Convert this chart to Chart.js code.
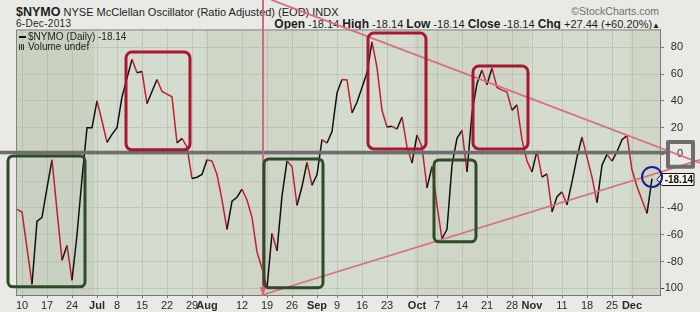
<!DOCTYPE html>
<html><head><meta charset="utf-8">
<script src="https://cdn.jsdelivr.net/npm/chart.js@4/dist/chart.umd.min.js"></script>
<style>
html,body{margin:0;padding:0;background:#e9e9e5;}
#wrap{position:relative;width:700px;height:312px;overflow:hidden;font-family:"Liberation Sans",Arial,sans-serif;}
#c{position:absolute;left:0;top:0;z-index:2;}
.t{position:absolute;white-space:nowrap;color:#1e1e1e;line-height:12px;z-index:1;}
.lg{z-index:3;font-size:10px;color:#222;}
.ico{display:inline-block;vertical-align:middle;}
</style></head><body>
<div id="wrap">
<div class="t" style="left:16px;top:6px;font-size:11px"><b style="font-size:12.5px">$NYMO</b> NYSE McClellan Oscillator (Ratio Adjusted) (EOD) INDX</div>
<div class="t" style="left:16px;top:18px;font-size:10px;letter-spacing:0.3px">6-Dec-2013</div>
<div class="t" style="right:41px;top:5px;font-size:10.5px;color:#707070">©StockCharts.com</div>
<div class="t" style="right:40px;top:18px;font-size:11px"><b style="font-size:12px">Open</b> -18.14 <b style="font-size:12px">High</b> -18.14 <b style="font-size:12px">Low</b> -18.14 <b style="font-size:12px">Close</b> -18.14 <b style="font-size:12px">Chg</b> +27.44 (+60.20%)<span style="font-size:8px">▲</span></div>
<canvas id="c" width="700" height="312"></canvas>
<div class="t lg" style="left:19px;top:31px;"><span class="ico" style="width:7px;height:2px;background:#111;margin-right:2px;"></span>$NYMO (Daily) -18.14</div>
<div class="t lg" style="left:19px;top:41px;"><span class="ico" style="width:7px;height:6px;background:linear-gradient(90deg,#333 0 1px,transparent 1px 2px,#333 2px 3px,transparent 3px 4px,#333 4px 5px,transparent 5px);margin-right:2px;"></span>Volume undef</div>
</div>
<script>
// ---- data ----
const dates = [
'Jun 7','Jun 10','Jun 11','Jun 12','Jun 13','Jun 14','Jun 17','Jun 18','Jun 19','Jun 20','Jun 21',
'Jun 24','Jun 25','Jun 26','Jun 27','Jun 28','Jul 1','Jul 2','Jul 3','Jul 5',
'Jul 8','Jul 9','Jul 10','Jul 11','Jul 12','Jul 15','Jul 16','Jul 17','Jul 18','Jul 19',
'Jul 22','Jul 23','Jul 24','Jul 25','Jul 26','Jul 29','Jul 30','Jul 31','Aug 1','Aug 2',
'Aug 5','Aug 6','Aug 7','Aug 8','Aug 9','Aug 12','Aug 13','Aug 14','Aug 15','Aug 16',
'Aug 19','Aug 20','Aug 21','Aug 22','Aug 23','Aug 26','Aug 27','Aug 28','Aug 29','Aug 30',
'Sep 3','Sep 4','Sep 5','Sep 6','Sep 9','Sep 10','Sep 11','Sep 12','Sep 13',
'Sep 16','Sep 17','Sep 18','Sep 19','Sep 20','Sep 23','Sep 24','Sep 25','Sep 26','Sep 27',
'Sep 30','Oct 1','Oct 2','Oct 3','Oct 4','Oct 7','Oct 8','Oct 9','Oct 10','Oct 11',
'Oct 14','Oct 15','Oct 16','Oct 17','Oct 18','Oct 21','Oct 22','Oct 23','Oct 24','Oct 25',
'Oct 28','Oct 29','Oct 30','Oct 31','Nov 1','Nov 4','Nov 5','Nov 6','Nov 7','Nov 8',
'Nov 11','Nov 12','Nov 13','Nov 14','Nov 15','Nov 18','Nov 19','Nov 20','Nov 21','Nov 22',
'Nov 25','Nov 26','Nov 27','Nov 29','Dec 2','Dec 3','Dec 4','Dec 5','Dec 6'
];
const nymo = [
-41,-43,-70,-97,-50,-47,-25,-4,-42,-79,
-68,-94,-60,-18,20,20,40,25,9,15,
20,43,57,71,61,62,38,47,56,47,
45,43,8.5,12,5.6,-18,-17,-15,-4,-5,
-15,-34,-56,-35,-32,-26,-34,-47,-73,-85,
-100,-59,-72,-31,-5,-9,-38,-24,-6,-23,
-15,11,8.5,17,46,56,55.6,31,39,50,
61,84,65,33,20.5,21,19,28,5.6,-6.5,
14.5,5.6,-25,-9,-38,-63,-56,-8,12,18,
-13,31,53,63,52,64.5,50,48,46.6,33,
37,11,-5,-13,2.6,-17,-14.5,-43,-31.5,-28,
-37.7,-20.5,-2,13,-2,-17,-36,-8,0,-5,
2,11,14,-11.5,-24,-34,-44,-18.14
];
const tickDates = ['Jun 10','Jun 17','Jun 24','Jul 1','Jul 8','Jul 15','Jul 22','Jul 29','Aug 1','Aug 12','Aug 19','Aug 26','Sep 3','Sep 9','Sep 16','Sep 23','Oct 1','Oct 7','Oct 14','Oct 21','Oct 28','Nov 1','Nov 11','Nov 18','Nov 25','Dec 2'];
const tickText  = ['10','17','24','Jul','8','15','22','29','Aug','12','19','26','Sep','9','16','23','Oct','7','14','21','28','Nov','11','18','25','Dec'];
const yTicks = [80,60,40,20,0,-20,-40,-60,-80,-100];
const lastValue = -18.14;

// ---- hand-drawn annotations (in data units: [index, value]) ----
const ann = {
  greenBoxes: [[-1.8,-1.1,13.6,-98.9],[49.4,-3.4,61.2,-99.6],[83.4,-4.1,91.8,-65.3]],
  redBoxes:   [[21.8,76.5,34.6,3.4],[70.2,90.7,81.8,4.1],[91.2,66,102.2,4.1]],
  zeroLine:   [-3.4,1.5,130.2,1.5],
  vLine:      [49.2,116,49.2,-104.5],
  downLine:   [51,115.3,136.6,-6.3],
  upLine:     [49,-105,136.6,-4.1],
  circle:     [127,-16.8],
  grayBox:    [130.2,9.3,135.2,-9.3]
};

const FONT = '"Liberation Sans", Arial, sans-serif';
const idx = d => dates.indexOf(d);

const bgPlugin = {
  id:'bg',
  beforeDraw(chart){
    const {ctx, chartArea:a, scales:{x}} = chart;
    ctx.save();
    ctx.fillStyle = '#d2d9cb';
    ctx.fillRect(a.left, a.top, a.right-a.left, a.bottom-a.top);
    // month bands
    let start = 0, m = dates[0].slice(0,3), k = 0;
    const bands = [];
    for (let i=1;i<=dates.length;i++){
      const mm = i<dates.length ? dates[i].slice(0,3) : null;
      if (mm !== m){ bands.push([start,i-1,k]); start=i; m=mm; k++; }
    }
    bands.forEach(([s,e,k])=>{
      const l = k===0 ? a.left : x.getPixelForValue(s-0.5);
      const r = k===bands.length-1 ? a.right : x.getPixelForValue(e+0.5);
      ctx.fillStyle = k===0 ? '#c9d1c2' : (k%2===0 ? '#cfd6c8' : '#d4dbcf');
      ctx.fillRect(l, a.top, r-l, a.bottom-a.top);
    });
    ctx.restore();
  },
  afterDraw(chart){
    const {ctx, chartArea:a, scales:{x,y}} = chart;
    const X = v => x.getPixelForValue(v), Y = v => y.getPixelForValue(v);
    ctx.save();
    // plot frame
    ctx.strokeStyle = '#7d8778'; ctx.lineWidth = 1;
    ctx.beginPath(); ctx.moveTo(a.left+0.5, a.bottom); ctx.lineTo(a.left+0.5, a.top+0.5); ctx.lineTo(a.right, a.top+0.5); ctx.stroke();
    // price label
    const py = Math.round(Y(lastValue))+0.5;
    ctx.beginPath();
    ctx.moveTo(a.right-3, py); ctx.lineTo(a.right+2, py-6); ctx.lineTo(a.right+34, py-6);
    ctx.lineTo(a.right+34, py+6); ctx.lineTo(a.right+2, py+6); ctx.closePath();
    ctx.fillStyle = '#f6f6ee'; ctx.fill(); ctx.strokeStyle='#111'; ctx.lineWidth=1; ctx.stroke();
    ctx.fillStyle = '#111'; ctx.font = 'bold 10px '+FONT; ctx.textAlign='right'; ctx.textBaseline='middle';
    ctx.fillText(lastValue.toFixed(2), a.right+33, py+0.5);
    // annotations
    ctx.lineCap = 'round'; ctx.lineJoin='round';
    const line = (p, col, w) => { ctx.strokeStyle=col; ctx.lineWidth=w; ctx.beginPath(); ctx.moveTo(X(p[0]),Y(p[1])); ctx.lineTo(X(p[2]),Y(p[3])); ctx.stroke(); };
    line(ann.zeroLine, '#6e6e6e', 3.5);
    line(ann.downLine, 'rgba(214,108,124,0.95)', 1.8);
    line(ann.upLine, 'rgba(214,108,124,0.95)', 1.8);
    line(ann.vLine, 'rgba(214,100,118,0.95)', 2);
    // arrow head
    const ax = X(ann.vLine[2]), ay = Y(ann.vLine[3]);
    ctx.fillStyle = 'rgba(214,100,118,0.95)';
    ctx.beginPath(); ctx.moveTo(ax-3.5, ay-7); ctx.lineTo(ax+3.5, ay-7); ctx.lineTo(ax, ay+1); ctx.closePath(); ctx.fill();
    const box = (b, col, w, r) => {
      const l=X(b[0]), t=Y(b[1]), rr=X(b[2]), bt=Y(b[3]);
      ctx.strokeStyle=col; ctx.lineWidth=w; ctx.beginPath(); ctx.roundRect(l,t,rr-l,bt-t,r); ctx.stroke();
    };
    ann.greenBoxes.forEach(b=>box(b,'#2e4a28',3,5));
    ann.redBoxes.forEach(b=>box(b,'#a8172e',3,6));
    // gray square
    box(ann.grayBox,'#6e6e6e',4,0);
    // blue circle
    ctx.strokeStyle='#1c1c96'; ctx.lineWidth=2;
    ctx.beginPath(); ctx.arc(X(ann.circle[0]), Y(ann.circle[1]), 10, 0, Math.PI*2); ctx.stroke();
    ctx.restore();
  }
};

new Chart(document.getElementById('c'), {
  type:'line',
  data:{ datasets:[{
    data: nymo.map((v,i)=>({x:i,y:v})),
    borderWidth:1.5, pointRadius:0, tension:0,
    borderColor:'#111',
    segment:{ borderColor: c => c.p1.parsed.y >= c.p0.parsed.y ? '#111111' : '#c21d30' }
  }]},
  options:{
    responsive:false, animation:false,
    layout:{ padding:{ left:16, top:29.5, right:17, bottom:0 } },
    plugins:{ legend:{display:false}, tooltip:{enabled:false} },
    scales:{
      x:{ type:'linear', min:-0.2, max:128.6,
        afterBuildTicks: s => { s.ticks = tickDates.map(d=>({value:idx(d)})); },
        afterFit: s => { s.height = 17; },
        ticks:{ autoSkip:false, maxRotation:0, padding:1, color:'#2a2a2a',
          callback:(v,i)=>tickText[i],
          font: c => ({ family:FONT, size:11, weight: /^[A-Z]/.test(tickText[c.index]||'') ? 'bold':'normal' }) },
        grid:{ color:'#a9b4a1', lineWidth:1, tickLength:3, tickColor:'#777' },
        border:{ display:true, color:'#777', dash:[1,1] }
      },
      y:{ position:'right', min:-105, max:93.3,
        afterBuildTicks: s => { s.ticks = yTicks.map(v=>({value:v})); },
        afterFit: s => { s.width = 23; },
        ticks:{ crossAlign:'far', padding:0, color:'#2a2a2a', font:{family:FONT, size:11} },
        grid:{ color:'#a9b4a1', lineWidth:1, tickLength:4, tickColor:'#777' },
        border:{ display:true, color:'#777', dash:[1,1] }
      }
    }
  },
  plugins:[bgPlugin]
});
</script>
</body></html>
